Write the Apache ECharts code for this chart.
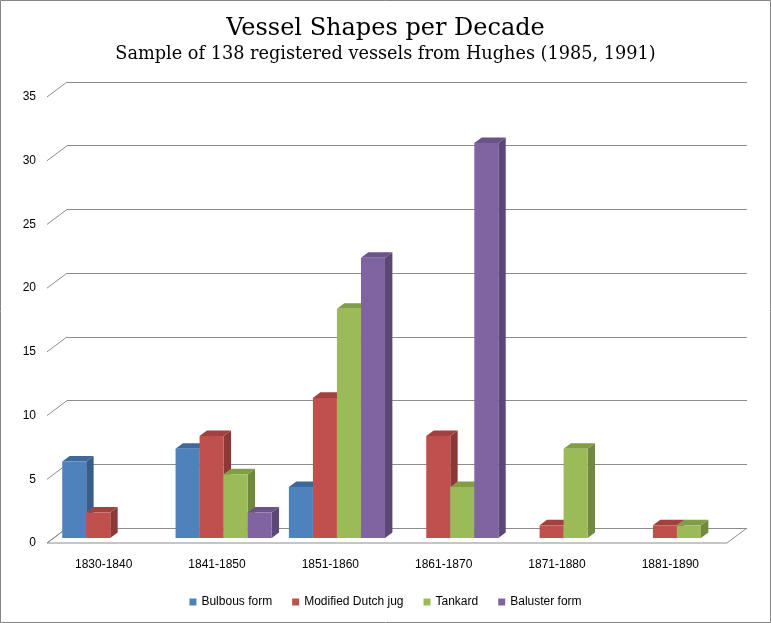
<!DOCTYPE html>
<html>
<head>
<meta charset="utf-8">
<script src="https://cdn.jsdelivr.net/npm/echarts@6/dist/echarts.min.js"></script>
<style>
  html, body { margin: 0; padding: 0; background: #fff; }
  #main { width: 771px; height: 623px; }
</style>
</head>
<body>
<div id="main"></div>
<script>
var decades = ['1830-1840', '1841-1850', '1851-1860', '1861-1870', '1871-1880', '1881-1890'];
var bulbous = [6, 7, 4, 0, 0, 0];
var dutchJug = [2, 8, 11, 8, 1, 1];
var tankard = [0, 5, 18, 4, 7, 1];
var baluster = [0, 2, 22, 31, 0, 0];
var yTicks = [0, 5, 10, 15, 20, 25, 30, 35];

var seriesNames = ['Bulbous form', 'Modified Dutch jug', 'Tankard', 'Baluster form'];
var seriesData = [bulbous, dutchJug, tankard, baluster];
var frontCol = ['#4F81BD', '#C0504D', '#9BBB59', '#8064A2'];
var sideCol = ['#385D8A', '#8C3836', '#71893F', '#5C4776'];
var topCol = ['#40699B', '#A2413E', '#819E47', '#6A5389'];

// depth of the floor (front -> back wall)
var DX = 20, DY = -15;
var F1 = 0.33, BD = 0.37;   // bar front position and bar depth as fraction of the floor
var lineCol = '#8C8C8C';

var myChart = echarts.init(document.getElementById('main'));

function barItem(s) {
    return function (params, api) {
        var i = api.value(0), v = api.value(1);
        if (!v) return null;
        var base = api.coord([i, 0]);
        var topP = api.coord([i, v]);
        var band = api.size([1, 0])[0];
        var bw = band * 0.212;
        var x0 = base[0] + F1 * DX - 2 * bw + s * bw;
        var y0 = base[1] + F1 * DY;
        var y1 = topP[1] + F1 * DY;
        var sx = BD * DX, sy = BD * DY;
        return {
            type: 'group',
            children: [
                { type: 'polygon', shape: { points: [[x0 + bw, y1], [x0 + bw + sx, y1 + sy], [x0 + bw + sx, y0 + sy], [x0 + bw, y0]] },
                  style: { fill: sideCol[s] } },
                { type: 'polygon', shape: { points: [[x0, y1], [x0 + sx, y1 + sy], [x0 + bw + sx, y1 + sy], [x0 + bw, y1]] },
                  style: { fill: topCol[s] } },
                { type: 'rect', shape: { x: x0, y: y1, width: bw, height: y0 - y1 },
                  style: { fill: frontCol[s] } }
            ]
        };
    };
}

var series = [];
// floor
series.push({
    type: 'custom',
    xAxisIndex: 1, yAxisIndex: 1,
    silent: true, z: 1,
    data: [[0, 0]],
    renderItem: function (params, api) {
        var cs = params.coordSys;
        var y = api.coord([0, 0])[1];
        var xl = cs.x, xr = cs.x + cs.width;
        return {
            type: 'polyline',
            shape: { points: [[xl + DX, y + DY], [xl, y], [xr, y], [xr + DX, y + DY]] },
            style: { stroke: lineCol, lineWidth: 1, fill: null }
        };
    }
});
// left wall tick diagonals
series.push({
    type: 'custom',
    xAxisIndex: 1, yAxisIndex: 1,
    silent: true, z: 1,
    data: yTicks.map(function (t) { return [0, t]; }),
    renderItem: function (params, api) {
        var cs = params.coordSys;
        var y = api.coord([0, api.value(1)])[1];
        return {
            type: 'line',
            shape: { x1: cs.x, y1: y, x2: cs.x + DX, y2: y + DY },
            style: { stroke: lineCol, lineWidth: 1 }
        };
    }
});
for (var s = 0; s < 4; s++) {
    series.push({
        name: seriesNames[s],
        type: 'custom',
        xAxisIndex: 1, yAxisIndex: 1,
        z: 2 + s,
        itemStyle: { color: frontCol[s] },
        data: seriesData[s].map(function (v, i) { return [i, v]; }),
        renderItem: barItem(s)
    });
}

var option = {
    animation: false,
    title: {
        text: 'Vessel Shapes per Decade',
        subtext: 'Sample of 138 registered vessels from Hughes (1985, 1991)',
        left: 'center',
        top: 12,
        itemGap: 4,
        textStyle: { fontFamily: 'DejaVu Serif', fontSize: 24, fontWeight: 'normal', color: '#000' },
        subtextStyle: { fontFamily: 'DejaVu Serif', fontSize: 17.7, color: '#000' }
    },
    legend: {
        data: seriesNames,
        bottom: 10,
        left: 'center',
        icon: 'rect',
        itemWidth: 7,
        itemHeight: 7,
        itemGap: 20,
        textStyle: { fontFamily: 'Liberation Sans', fontSize: 12, color: '#000' }
    },
    graphic: [{
        type: 'rect',
        shape: { x: 0.5, y: 0.5, width: 770, height: 622 },
        style: { fill: null, stroke: '#868686', lineWidth: 1 },
        silent: true
    }],
    grid: [
        // back wall
        { left: 67, right: 24, top: 82, bottom: 95 },
        // front plane
        { left: 47, right: 44, top: 97, bottom: 80 }
    ],
    xAxis: [
        { type: 'category', gridIndex: 0, data: decades, show: false },
        {
            type: 'category', gridIndex: 1, data: decades,
            axisLine: { show: false }, axisTick: { show: false },
            axisLabel: { fontFamily: 'Liberation Sans', fontSize: 12, color: '#000', margin: 16 }
        }
    ],
    yAxis: [
        {
            type: 'value', gridIndex: 0, min: 0, max: 35, interval: 5,
            axisLine: { show: false }, axisTick: { show: false }, axisLabel: { show: false },
            splitLine: { lineStyle: { color: lineCol, width: 1 } }
        },
        {
            type: 'value', gridIndex: 1, min: 0, max: 35, interval: 5,
            axisLine: { show: false }, axisTick: { show: false },
            splitLine: { show: false },
            axisLabel: { fontFamily: 'Liberation Sans', fontSize: 12, color: '#000', margin: 11 }
        }
    ],
    series: series
};
myChart.setOption(option);
</script>
</body>
</html>
